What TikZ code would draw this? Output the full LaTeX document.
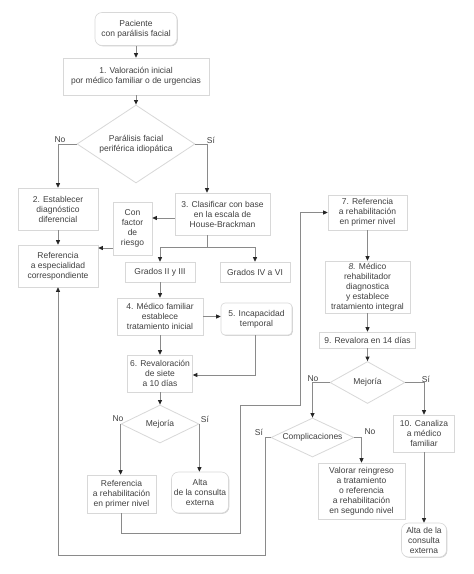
\documentclass[tikz,border=0pt]{standalone}
\usepackage{fontspec}
\setmainfont{Liberation Sans}
\usetikzlibrary{shapes.geometric,arrows.meta,shadows,calc}
\definecolor{txt}{HTML}{404040}
\definecolor{ln}{HTML}{8A8A8A}
\definecolor{bd}{HTML}{D8D8D8}
\begin{document}
\begin{tikzpicture}[x=1pt,y=-1pt,
  every node/.style={font=\fontsize{8.5}{10}\selectfont,text=txt},
  shad/.style={drop shadow={shadow xshift=0.8pt,shadow yshift=-0.8pt,fill=black,opacity=0.18}},
  box/.style={draw=bd,line width=0.6pt,fill=white,align=center,inner sep=0pt,shad},
  rbox/.style={box,rounded corners=7pt},
  dia/.style={diamond,draw=bd,line width=0.8pt,fill=white,align=center,inner sep=0pt,shape aspect=2},
  conn/.style={draw=ln,line width=0.8pt},
  arr/.style={conn,-{Triangle[length=4.5pt,width=4pt,color=black!85]}},
  lab/.style={font=\fontsize{8.5}{10}\selectfont,inner sep=0pt}
]
\useasboundingbox (0,0) rectangle (474,574);
\fill[white] (0,0) rectangle (474,574);

% nodes
\node[rbox,minimum width=82pt,minimum height=33pt] (start) at (136,29) {Paciente\\con parálisis facial};
\node[box,minimum width=146pt,minimum height=37pt] (b1) at (136,76.5) {1. Valoración inicial\\por médico familiar o de urgencias};
\node[dia,minimum width=118pt,minimum height=78pt,shape aspect=1.5] (d1) at (136,144) {Parálisis facial\\periférica idiopática};
\node[box,minimum width=80pt,minimum height=42pt] (b2) at (58,209) {2. Establecer\\diagnóstico\\diferencial};
\node[box,minimum width=80pt,minimum height=42pt] (ref) at (58,266) {Referencia\\a especialidad\\correspondiente};
\node[box,minimum width=39pt,minimum height=53pt] (cf) at (132.5,228.5) {Con\\factor\\de\\riesgo};
\node[box,minimum width=95pt,minimum height=42pt] (b3) at (222.5,214) {3. Clasificar con base\\en la escala de\\House-Brackman};
\node[box,minimum width=70pt,minimum height=20pt] (g23) at (160,272) {Grados II y III};
\node[box,minimum width=70pt,minimum height=20pt] (g46) at (255,272) {Grados IV a VI};
\node[box,minimum width=86pt,minimum height=37pt] (b4) at (160,316.5) {4. Médico familiar\\establece\\tratamiento inicial};
\node[rbox,rounded corners=4pt,minimum width=71pt,minimum height=32pt] (b5) at (256.5,319) {5. Incapacidad\\temporal};
\node[box,minimum width=65pt,minimum height=37pt] (b6) at (160,373.5) {6. Revaloración\\de siete\\a 10 días};
\node[dia,minimum width=78pt,minimum height=38pt] (m1) at (160,424) {Mejoría};
\node[box,minimum width=69pt,minimum height=38pt] (rr) at (121.5,494) {Referencia\\a rehabilitación\\en primer nivel};
\node[rbox,minimum width=57pt,minimum height=41pt] (alta1) at (200,492.5) {Alta\\de la consulta\\externa};
\node[box,minimum width=79pt,minimum height=35pt] (b7) at (367.5,212.5) {7. Referencia\\a rehabilitación\\en primer nivel};
\node[box,minimum width=85pt,minimum height=52pt] (b8) at (367.5,287) {\textit{8.} Médico\\rehabilitador\\diagnostica\\y establece\\tratamiento integral};
\node[box,minimum width=96pt,minimum height=16pt] (b9) at (367.5,340) {9. Revalora en 14 días};
\node[dia,minimum width=75pt,minimum height=42pt] (m2) at (367.5,382.5) {Mejoría};
\node[dia,minimum width=83pt,minimum height=39pt] (comp) at (312.5,437.5) {Complicaciones};
\node[box,minimum width=87pt,minimum height=56pt] (val) at (361.5,491) {Valorar reingreso\\a tratamiento\\o referencia\\a rehabilitación\\en segundo nivel};
\node[box,minimum width=61pt,minimum height=37pt] (b10) at (424,433.5) {10. Canaliza\\a médico\\familiar};
\node[rbox,minimum width=45pt,minimum height=34pt] (alta2) at (424,540) {Alta de la\\consulta\\externa};

% coordinates
\coordinate (p3) at ($(b3.west)+(0,4)$);
\coordinate (pcf) at ($(cf.west)+(0,19.5)$);
\coordinate (sp) at ($(b3.south)+(-15.5,12)$);
\coordinate (d1r) at ($(b3.north)+(-15.5,0)$);
\coordinate (c1) at (240,533);
\coordinate (c2) at (300,405);
\coordinate (c3) at (265,555);

% connectors
\draw[arr] (start) -- (b1);
\draw[arr] (b1) -- (d1);
\draw[arr] (d1.west) -| (b2.north);
\draw[arr] (d1.east) -| (d1r);
\draw[arr] (b2) -- (ref);
\draw[arr] (p3) -- (p3 -| cf.east);
\draw[arr] (pcf) -- (pcf -| ref.east);
\draw[conn] (sp |- b3.south) -- (sp);
\draw[arr] (sp) -| (g23.north);
\draw[arr] (sp) -| (g46.north);
\draw[arr] (g23) -- (b4);
\draw[arr] (b4.east) -- (b4.east -| b5.west);
\draw[arr] (b4) -- (b6);
\draw[arr] ($(b5.south)+(-1.5,0)$) |- ($(b6.east)+(0,1.5)$);
\draw[arr] (b6) -- (m1);
\draw[arr] (m1.west) -- (m1.west |- rr.north);
\draw[arr] (m1.east) -- (m1.east |- alta1.north);
\draw[arr] (rr.south) |- (c1) |- (c2) |- (b7.west);
\draw[arr] (b7) -- (b8);
\draw[arr] (b8) -- (b9);
\draw[arr] (b9) -- (m2);
\draw[arr] (m2.west) -| (comp.north);
\draw[arr] (m2.east) -| (b10.north);
\draw[arr] (comp.east) -| (val.north);
\draw[arr] (comp.west) -| (c3) -| (ref.south);
\draw[arr] (b10) -- (alta2);

% labels
\node[lab] (l1) at (60,140) {No};
\node[lab] (l2) at (211,140) {Sí};
\node[lab] (l3) at (118,419) {No};
\node[lab] (l4) at (205,419) {Sí};
\node[lab] (l5) at (313,379) {No};
\node[lab] (l6) at (426,379) {Sí};
\node[lab] (l7) at (370,432) {No};
\node[lab] (l8) at (259,432) {Sí};
\end{tikzpicture}
\end{document}
